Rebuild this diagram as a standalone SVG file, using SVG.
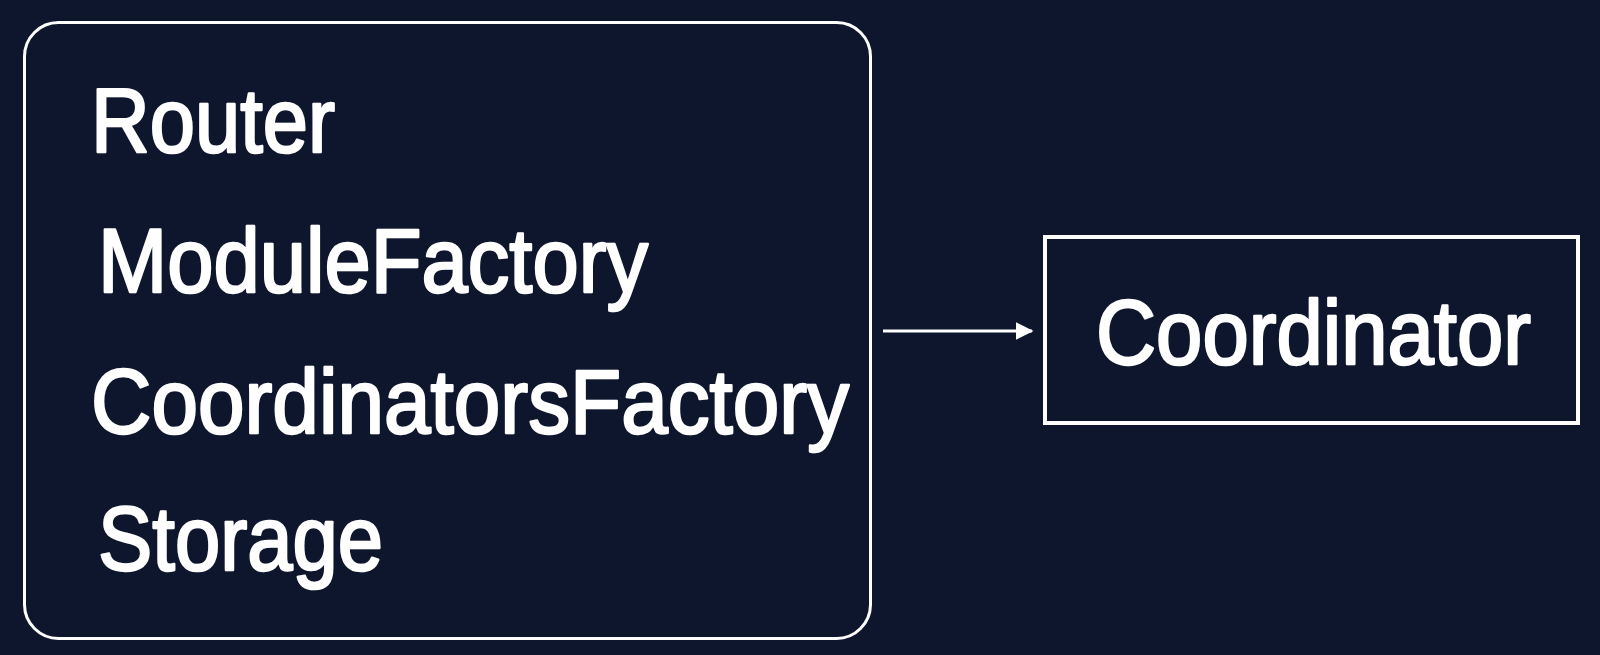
<svg xmlns="http://www.w3.org/2000/svg" width="1600" height="655" viewBox="0 0 1600 655">
  <style>
    .lbl { font-family: "Liberation Sans Narrow", "Liberation Sans", "DejaVu Sans Condensed", sans-serif; font-size: 90px; fill: #ffffff; stroke: #ffffff; stroke-width: 2.5px; stroke-linejoin: round; }
    .box { fill: none; stroke: #ffffff; }
  </style>
  <defs>
    <marker id="arrow" markerWidth="6" markerHeight="6" refX="5.5" refY="3" orient="auto" markerUnits="strokeWidth">
      <path d="M0,0 L6,3 L0,6 Z" fill="#ffffff"/>
    </marker>
  </defs>
  <rect x="0" y="0" width="1600" height="655" fill="#0e162d"/>
  <g id="components">
    <rect class="box" x="24.5" y="22.5" width="846" height="616" rx="34" ry="34" stroke-width="3"/>
    <text class="lbl" x="91" y="152" textLength="244" lengthAdjust="spacingAndGlyphs">Router</text>
    <text class="lbl" x="98" y="292" textLength="550" lengthAdjust="spacingAndGlyphs">ModuleFactory</text>
    <text class="lbl" x="91" y="433" textLength="758" lengthAdjust="spacingAndGlyphs">CoordinatorsFactory</text>
    <text class="lbl" x="98" y="570" textLength="285" lengthAdjust="spacingAndGlyphs">Storage</text>
  </g>
  <g id="coordinator">
    <rect class="box" x="1045" y="237" width="533" height="186" stroke-width="4"/>
    <text class="lbl" x="1096" y="364" textLength="435" lengthAdjust="spacingAndGlyphs">Coordinator</text>
  </g>
  <g id="connectors">
    <line x1="883" y1="331" x2="1032" y2="331" stroke="#ffffff" stroke-width="3" marker-end="url(#arrow)"/>
  </g>
</svg>
